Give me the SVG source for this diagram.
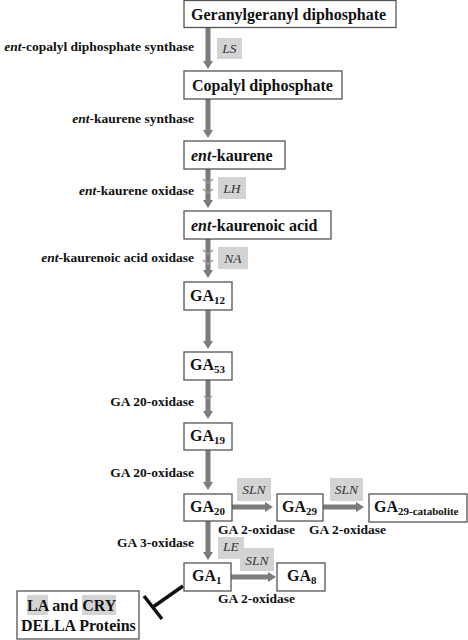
<svg xmlns="http://www.w3.org/2000/svg" width="468" height="640" viewBox="0 0 468 640">
<style>
.box{fill:#fff;stroke:#555;stroke-width:1.3}
.t{font-family:"Liberation Serif",serif;font-weight:bold;font-size:16px;fill:#111}
.sub{font-size:11px}
.lbl{font-family:"Liberation Serif",serif;font-weight:bold;font-size:13.5px;fill:#111}
.gene{font-family:"Liberation Serif",serif;font-style:italic;font-size:13.5px;fill:#333}
.hl{fill:#d3d3d3}
.arr{stroke:#7b7b7b;stroke-width:5;fill:none;marker-end:url(#ah)}
.tick{stroke:#9a9a9a;stroke-width:1.4;fill:none}
.inh{stroke:#111;stroke-width:3.5;fill:none}
</style>
<defs>
<marker id="ah" viewBox="0 0 8 10" markerWidth="8" markerHeight="10" refX="2" refY="5" orient="auto" markerUnits="userSpaceOnUse">
<path d="M0,0 L8,5 L0,10 z" fill="#7b7b7b"/>
</marker>
</defs>
<rect width="468" height="640" fill="#fff"/>

<g id="connectors">
<line class="arr" x1="208" y1="27" x2="208" y2="63"/>
<line class="arr" x1="208" y1="99" x2="208" y2="132"/>
<line class="arr" x1="208" y1="169" x2="208" y2="202"/>
<line class="arr" x1="208" y1="239" x2="208" y2="272"/>
<line class="arr" x1="208" y1="310" x2="208" y2="343"/>
<line class="arr" x1="208" y1="380" x2="208" y2="413"/>
<line class="arr" x1="208" y1="450" x2="208" y2="484"/>
<line class="arr" x1="208" y1="521" x2="208" y2="554"/>
<line class="arr" x1="232" y1="507" x2="267" y2="507"/>
<line class="arr" x1="323" y1="507" x2="358" y2="507"/>
<line class="arr" x1="231" y1="577" x2="270" y2="577"/>
<path class="tick" d="M203,179 L208,183 L213,179 M203,189 L208,193 L213,189"/>
<path class="tick" d="M203,250 L208,254 L213,250 M203,260 L208,264 L213,260"/>
<path class="tick" d="M204,396 L208,399 L212,396"/>
<line class="inh" x1="183" y1="586" x2="153" y2="607"/>
<line class="inh" x1="144" y1="596" x2="162" y2="619"/>
</g>

<g id="gene-labels">
<rect class="hl" x="217" y="38" width="25" height="21"/>
<text class="gene" x="229.5" y="53" text-anchor="middle">LS</text>
<rect class="hl" x="218" y="177" width="28" height="22"/>
<text class="gene" x="232" y="193" text-anchor="middle">LH</text>
<rect class="hl" x="218" y="247" width="30" height="22"/>
<text class="gene" x="233" y="263" text-anchor="middle">NA</text>
<rect class="hl" x="237" y="478" width="34" height="23"/>
<text class="gene" x="254" y="494" text-anchor="middle">SLN</text>
<rect class="hl" x="330" y="478" width="33" height="23"/>
<text class="gene" x="346.5" y="494" text-anchor="middle">SLN</text>
<rect class="hl" x="218" y="537" width="26" height="22"/>
<text class="gene" x="231" y="551" text-anchor="middle">LE</text>
<rect class="hl" x="240" y="548" width="34" height="23"/>
<text class="gene" x="257" y="565" text-anchor="middle">SLN</text>
</g>

<g id="enzyme-labels">
<text class="lbl" x="194" y="51" text-anchor="end"><tspan font-style="italic">ent</tspan>-copalyl diphosphate synthase</text>
<text class="lbl" x="194" y="123" text-anchor="end"><tspan font-style="italic">ent</tspan>-kaurene synthase</text>
<text class="lbl" x="194" y="195" text-anchor="end"><tspan font-style="italic">ent</tspan>-kaurene oxidase</text>
<text class="lbl" x="194" y="262" text-anchor="end"><tspan font-style="italic">ent</tspan>-kaurenoic acid oxidase</text>
<text class="lbl" x="194" y="406" text-anchor="end">GA 20-oxidase</text>
<text class="lbl" x="194" y="477" text-anchor="end">GA 20-oxidase</text>
<text class="lbl" x="194" y="547" text-anchor="end">GA 3-oxidase</text>
<text class="lbl" x="218" y="534">GA 2-oxidase</text>
<text class="lbl" x="309" y="534">GA 2-oxidase</text>
<text class="lbl" x="218" y="603">GA 2-oxidase</text>
</g>

<g id="node-ggpp">
<rect class="box" x="184" y="0.5" width="212" height="27"/>
<text class="t" x="191" y="20">Geranylgeranyl diphosphate</text>
</g>
<g id="node-cpp">
<rect class="box" x="184" y="71" width="158" height="28"/>
<text class="t" x="192" y="91">Copalyl diphosphate</text>
</g>
<g id="node-kaurene">
<rect class="box" x="184" y="141" width="101" height="28"/>
<text class="t" x="191" y="161"><tspan font-style="italic">ent</tspan>-kaurene</text>
</g>
<g id="node-kaurenoic">
<rect class="box" x="184" y="211" width="147" height="28"/>
<text class="t" x="191" y="231"><tspan font-style="italic">ent</tspan>-kaurenoic acid</text>
</g>
<g id="node-ga12">
<rect class="box" x="184" y="282" width="48" height="28"/>
<text class="t" x="190" y="301">GA<tspan class="sub" dy="3">12</tspan></text>
</g>
<g id="node-ga53">
<rect class="box" x="184" y="352" width="48" height="28"/>
<text class="t" x="190" y="370">GA<tspan class="sub" dy="3">53</tspan></text>
</g>
<g id="node-ga19">
<rect class="box" x="184" y="423" width="48" height="27"/>
<text class="t" x="190" y="441">GA<tspan class="sub" dy="3">19</tspan></text>
</g>
<g id="node-ga20">
<rect class="box" x="184" y="494" width="48" height="27"/>
<text class="t" x="190" y="512">GA<tspan class="sub" dy="3">20</tspan></text>
</g>
<g id="node-ga29">
<rect class="box" x="277" y="494" width="46" height="27"/>
<text class="t" x="282" y="512">GA<tspan class="sub" dy="3">29</tspan></text>
</g>
<g id="node-ga29cat">
<rect class="box" x="369" y="494" width="98" height="28"/>
<text class="t" x="374" y="512">GA<tspan class="sub" dy="3">29-catabolite</tspan></text>
</g>
<g id="node-ga1">
<rect class="box" x="184" y="563" width="47" height="28"/>
<text class="t" x="192" y="581">GA<tspan class="sub" dy="3">1</tspan></text>
</g>
<g id="node-ga8">
<rect class="box" x="277" y="563" width="48" height="28"/>
<text class="t" x="287" y="581">GA<tspan class="sub" dy="3">8</tspan></text>
</g>
<g id="node-della">
<rect class="box" x="17" y="591" width="122" height="48"/>
<rect class="hl" x="27" y="595" width="21" height="20"/>
<rect class="hl" x="82" y="595" width="34" height="20"/>
<text class="t" x="27" y="611">LA and CRY</text>
<text class="t" x="21" y="631">DELLA Proteins</text>
</g>
</svg>
